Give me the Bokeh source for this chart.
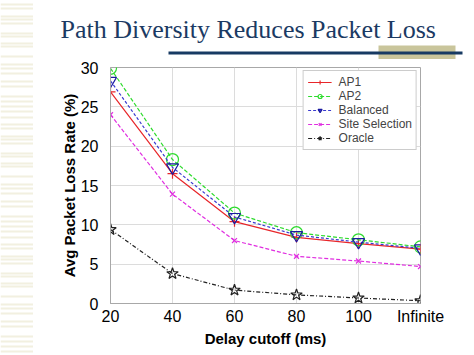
from bokeh.plotting import figure
from bokeh.models import Legend, LegendItem, FixedTicker, Range1d
from bokeh.layouts import row, column
from bokeh.core.properties import value
from bokeh.embed import file_html
from bokeh.resources import INLINE

# ---- data ----
delays = [20, 40, 60, 80, 100, 120]
delay_labels = ["20", "40", "60", "80", "100", "Infinite"]
ap1 = [26.9, 16.5, 10.4, 8.4, 7.6, 6.9]
ap2 = [29.9, 18.3, 11.5, 9.0, 8.1, 7.2]
balanced = [28.3, 17.3, 11.0, 8.7, 7.8, 7.0]
site_selection = [24.0, 13.9, 8.0, 6.0, 5.4, 4.7]
oracle = [9.4, 3.8, 1.7, 1.1, 0.7, 0.35]
y_ticks = [0, 5, 10, 15, 20, 25, 30]
title_text = "Path Diversity Reduces Packet Loss"

FONT = "Liberation Sans"


def bare(w, h, xr, yr):
    f = figure(width=w, height=h, output_backend="svg", toolbar_location=None,
               x_range=Range1d(*xr), y_range=Range1d(*yr),
               min_border=0, min_border_left=0, min_border_right=0,
               min_border_top=0, min_border_bottom=0)
    f.axis.visible = False
    f.grid.visible = False
    f.outline_line_color = None
    f.background_fill_color = "white"
    f.border_fill_color = "white"
    f.frame_align = False
    return f


# ---- left striped band of the slide ----
strip = bare(33, 355, (0, 33), (355, 0))
stripe_pattern = [3, 7, 15, 18, 22, 32, 35, 42, 45, 55, 63, 67, 72, 80, 85, 95,
                  100, 105, 110, 116]
tops = []
for base in range(0, 355, 120):
    for s in stripe_pattern:
        if base + s < 355:
            tops.append(base + s)
strip.quad(left=0, right=33, top=tops, bottom=[t + 2 for t in tops],
           fill_color="#F2F0E0", line_color=None)

# ---- slide title band ----
head = bare(441, 59, (33, 474), (59, 0))
head.quad(left=[378], right=[455], top=[45], bottom=[60],
          fill_color="#C9C59B", line_color=None)
head.quad(left=[168], right=[462], top=[51], bottom=[54],
          fill_color="#173A63", line_color=None)
head.text(x=[60], y=[29], text=[title_text], text_font=value("Liberation Serif"),
          text_font_size="26px", text_color="#1B3A63",
          text_baseline="middle", text_align="left")

# ---- chart ----
p = figure(width=441, height=296, output_backend="svg", toolbar_location=None,
           x_range=Range1d(20, 120), y_range=Range1d(0, 30),
           min_border_left=77, min_border_right=54,
           min_border_top=8, min_border_bottom=52)
p.frame_align = False
p.background_fill_color = "white"
p.border_fill_color = "white"
p.outline_line_color = "#A8A8A8"
p.outline_line_width = 1

p.xaxis.ticker = FixedTicker(ticks=delays)
p.xaxis.major_label_overrides = {d: l for d, l in zip(delays, delay_labels)}
p.yaxis.ticker = FixedTicker(ticks=y_ticks)
for ax in (p.xaxis, p.yaxis):
    ax.axis_line_color = "#A8A8A8"
    ax.major_tick_line_color = None
    ax.minor_tick_line_color = None
    ax.major_label_text_font = FONT
    ax.major_label_text_font_size = "16px"
    ax.major_label_text_color = "black"
    ax.axis_label_text_font = FONT
    ax.axis_label_text_font_style = "bold"
    ax.axis_label_text_font_size = "15px"
    ax.axis_label_text_color = "black"
p.xaxis.axis_label = "Delay cutoff (ms)"
p.yaxis.axis_label = "Avg Packet Loss Rate (%)"
p.xaxis.major_label_standoff = -2
p.yaxis.major_label_standoff = 6
p.xaxis.axis_label_standoff = 2
p.yaxis.axis_label_standoff = 0

p.grid.grid_line_color = "#DCDCDC"
p.grid.grid_line_width = 1

series = [
    ("AP1", ap1, "#E8262A", "solid", "cross", 10),
    ("AP2", ap2, "#2EDB2E", "4 2", "circle", 12),
    ("Balanced", balanced, "#3A3ACF", "3 2", "inverted_triangle", 12),
    ("Site Selection", site_selection, "#E02EE0", "4 2", "x", 7),
    ("Oracle", oracle, "#222222", "4 2 1 2", "star", 12),
]
items = []
for name, vals, col, dash, mk, sz in series:
    r1 = p.line(delays, vals, line_color=col, line_width=1.2, line_dash=dash)
    mcol = "#1A1AA0" if mk == "inverted_triangle" else col
    r2 = p.scatter(delays, vals, marker=mk, size=sz, line_color=mcol,
                   fill_color=None, line_width=1.2)
    items.append(LegendItem(label=name, renderers=[r1, r2]))

legend = Legend(items=items, location="top_right")
legend.margin = 3
legend.padding = 4
legend.spacing = 0
legend.label_height = 10
legend.glyph_height = 10
legend.glyph_width = 24
legend.label_standoff = 7
legend.label_text_font = FONT
legend.label_text_font_size = "12px"
legend.label_text_line_height = 1.0
legend.border_line_color = "#9A9A9A"
legend.border_line_width = 1
legend.background_fill_alpha = 1
p.add_layout(legend)

layout = row(strip, column(head, p, spacing=0), spacing=0)

open("out.html", "w").write(file_html(layout, INLINE))
